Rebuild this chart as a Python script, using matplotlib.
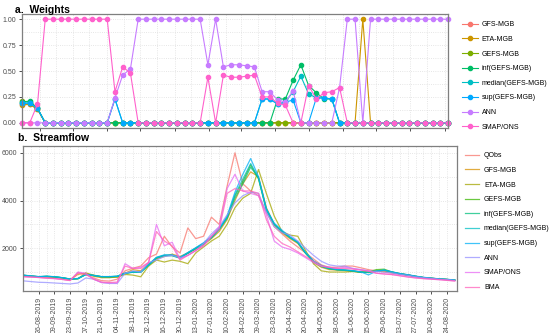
import numpy as np
import pandas as pd
import matplotlib
matplotlib.use("Agg")
import matplotlib.pyplot as plt
import matplotlib.dates as mdates
from matplotlib.ticker import FixedLocator, FormatStrFormatter

plt.rcParams['font.family'] = ['Liberation Sans', 'DejaVu Sans']

# ---- weights (weekly) ----
w_dates = pd.date_range('2019-08-16', periods=56, freq='7D')
w_names = ['GFS-MGB', 'ETA-MGB', 'GEFS-MGB', 'inf(GEFS-MGB)', 'median(GEFS-MGB)',
           'sup(GEFS-MGB)', 'ANN', 'SMAP/ONS']
w_colors = ['#F8766D', '#CD9600', '#7CAE00', '#00BE67', '#00BFC4', '#00A9FF',
            '#C77CFF', '#FF61CC']

w_gfs = [0.18, 0.18, 0.13] + [0]*53
w_eta = [0.17, 0.18, 0.13] + [0]*41 + [1.0] + [0]*11
w_gefs = [0.21, 0.20, 0.14] + [0]*53
w_inf = [0.20, 0.21, 0.14] + [0]*30 + [0.23, 0.23, 0.41, 0.56, 0.36, 0.29, 0.23, 0.23] + [0]*15
w_median = ([0.19, 0.19, 0.14] + [0]*9 + [0.23] + [0]*18 + [0.23, 0.23, 0.18, 0.20, 0.30, 0.45,
            0.28, 0.24, 0.24, 0.23] + [0]*15)
w_sup = ([0.19, 0.19, 0.14] + [0]*9 + [0.23] + [0]*18 + [0.23, 0.23, 0.18, 0.20, 0.22, 0,
         0, 0.24, 0.24, 0.23] + [0]*15)
w_ann = ([0]*12 + [0.24, 0.46, 0.52] + [1.0]*9 + [0.56, 1.0, 0.54, 0.56, 0.56, 0.55, 0.54,
         0.30, 0.30, 0.22, 0.20, 0.31] + [0]*5 + [0.34, 1.0, 1.0, 0] + [1.0]*11)
w_smap = ([0, 0, 0.18] + [1.0]*9 + [0.30, 0.54, 0.48] + [0]*9 + [0.44, 0, 0.46, 0.44, 0.44,
          0.45, 0.46, 0.25, 0.25, 0.19, 0.17, 0, 0, 0.36, 0.23, 0.29, 0.30, 0.34] + [0]*14)
weights = [w_gfs, w_eta, w_gefs, w_inf, w_median, w_sup, w_ann, w_smap]

# ---- streamflow (weekly) ----
s_dates = pd.date_range('2019-08-12', periods=56, freq='7D')
s_names = ['QObs', 'GFS-MGB', 'ETA-MGB', 'GEFS-MGB', 'inf(GEFS-MGB)', 'median(GEFS-MGB)',
           'sup(GEFS-MGB)', 'ANN', 'SMAP/ONS', 'BMA']
s_colors = ['#F8766D', '#D89000', '#A3A500', '#39B600', '#00BF7D', '#00BFC4', '#00B0F6',
            '#9590FF', '#E76BF3', '#FF62BC']

q_obs = [820, 800, 780, 760, 740, 700, 650, 980, 900, 750, 640, 620, 700, 1050, 1160, 1250,
         1600, 1750, 2500, 2050, 1800, 2850, 2400, 2500, 3300, 3000, 4600, 6000, 4700, 4400,
         4200, 3500, 2900, 2600, 2300, 2050, 1800, 1550, 1300, 1200, 1200, 1250, 1250, 1180,
         1100, 1050, 1000, 950, 900, 850, 800, 760, 730, 700, 680, 650]
q_gfs = [850, 820, 790, 800, 790, 750, 680, 900, 950, 820, 760, 760, 800, 950, 1100, 1050,
         1350, 1550, 1650, 1750, 1650, 1800, 1950, 2150, 2400, 2700, 3200, 4000, 4700, 5200,
         5000, 3700, 3000, 2650, 2400, 2200, 1800, 1400, 1200, 1100, 1080, 1060, 1030, 1000,
         990, 1030, 1050, 1000, 930, 880, 820, 770, 740, 710, 690, 660]
q_eta = [860, 830, 800, 810, 790, 760, 700, 720, 960, 870, 800, 780, 780, 900, 870, 800,
         1250, 1500, 1420, 1500, 1450, 1350, 1800, 2050, 2300, 2500, 3000, 3700, 4100, 4300,
         5300, 4300, 3350, 2700, 2550, 2500, 1900, 1350, 1050, 1000, 1000, 1000, 1020, 990,
         980, 1020, 1050, 990, 920, 870, 810, 760, 730, 700, 680, 650]
q_gefs = [870, 830, 800, 820, 800, 760, 700, 720, 900, 860, 800, 800, 820, 950, 1000, 1000,
          1300, 1600, 1700, 1700, 1600, 1800, 2000, 2200, 2450, 2800, 3300, 4200, 4800, 5500,
          4900, 3600, 3000, 2700, 2450, 2250, 1800, 1450, 1250, 1150, 1100, 1080, 1050, 1000,
          1000, 1100, 1120, 1000, 930, 880, 820, 770, 740, 710, 690, 660]
q_inf = [860, 830, 800, 815, 795, 755, 700, 720, 890, 850, 800, 800, 815, 940, 990, 990,
         1280, 1580, 1680, 1680, 1580, 1780, 1980, 2180, 2430, 2780, 3250, 4100, 4700, 5400,
         4950, 3650, 3000, 2700, 2450, 2230, 1780, 1430, 1230, 1130, 1090, 1070, 1040, 990,
         990, 1040, 1080, 990, 925, 875, 815, 765, 735, 705, 685, 655]
q_median = [865, 835, 805, 820, 800, 760, 705, 725, 895, 855, 805, 805, 820, 945, 1000, 1000,
            1300, 1600, 1700, 1700, 1600, 1800, 2000, 2200, 2450, 2800, 3300, 4250, 4900, 5550,
            4950, 3600, 3000, 2700, 2450, 2250, 1800, 1450, 1250, 1150, 1100, 1080, 1050, 1000,
            990, 1040, 1080, 1000, 930, 880, 820, 770, 740, 710, 690, 660]
q_sup = [870, 840, 810, 825, 805, 765, 710, 730, 900, 860, 810, 810, 825, 955, 1010, 1010,
         1320, 1620, 1720, 1720, 1620, 1820, 2020, 2230, 2480, 2830, 3350, 4350, 5100, 5760,
         5000, 3650, 3050, 2750, 2480, 2270, 1820, 1470, 1270, 1170, 1110, 1090, 1060, 1010,
         880, 1030, 1080, 1010, 940, 890, 830, 780, 745, 715, 695, 665]
q_ann = [630, 600, 570, 560, 540, 520, 500, 540, 750, 700, 560, 520, 520, 950, 1050, 1000,
         1400, 1500, 1650, 1700, 1600, 1700, 1900, 2200, 2600, 2900, 3400, 3900, 4200, 4350,
         4300, 3500, 2900, 2650, 2550, 2300, 2000, 1700, 1450, 1300, 1250, 1250, 1150, 1100,
         1050, 1020, 1000, 960, 900, 860, 800, 760, 730, 700, 680, 650]
q_smap = [800, 790, 770, 740, 720, 690, 650, 1000, 950, 700, 560, 540, 540, 1350, 1150, 1200,
          1400, 3000, 2100, 2250, 1550, 1700, 1900, 2100, 2500, 2900, 4500, 5100, 4400, 4300,
          4200, 3400, 2300, 2050, 1950, 1800, 1600, 1400, 1250, 1200, 1150, 1200, 1150, 1100,
          1050, 950, 920, 900, 850, 800, 760, 730, 700, 680, 660, 630]
q_bma = [810, 790, 770, 750, 730, 690, 640, 950, 900, 700, 580, 560, 580, 1250, 1150, 1150,
         1400, 2700, 2300, 2100, 1500, 1700, 1900, 2100, 2500, 2800, 4300, 4500, 4400, 4400,
         4300, 3200, 2500, 2200, 2050, 1850, 1650, 1450, 1250, 1200, 1150, 1150, 1120, 1080,
         1040, 950, 920, 890, 840, 790, 750, 720, 700, 680, 650, 620]
flows = [q_obs, q_gfs, q_eta, q_gefs, q_inf, q_median, q_sup, q_ann, q_smap, q_bma]

W, H = 550, 333
fig = plt.figure(figsize=(5.5, 3.33), dpi=100)

def box(l, t, r, b):
    return [l / W, 1 - b / H, (r - l) / W, (b - t) / H]

def style(ax):
    ax.set_facecolor('white')
    for s in ax.spines.values():
        s.set_color('#7f7f7f')
        s.set_linewidth(0.9)
    ax.grid(True, which='both', color='#dedede', linestyle=':', linewidth=0.6)
    ax.set_axisbelow(True)
    ax.tick_params(which='major', length=2.5, width=0.6, color='#333333',
                   labelsize=5.0, labelcolor='#4d4d4d', pad=1.5)
    ax.tick_params(which='minor', length=0)

# top: weights
ax1 = fig.add_axes(box(22, 14, 448, 128))
style(ax1)
for vals, name, c in zip(weights, w_names, w_colors):
    ax1.plot(w_dates, vals, color=c, lw=0.8, marker='o', ms=3, label=name, clip_on=False)
ax1.set_xlim(w_dates[0], w_dates[-1])
ax1.set_ylim(-0.05, 1.05)
ax1.yaxis.set_major_locator(FixedLocator([0, 0.25, 0.5, 0.75, 1.0]))
ax1.yaxis.set_minor_locator(FixedLocator([0.125, 0.375, 0.625, 0.875]))
ax1.yaxis.set_major_formatter(FormatStrFormatter('%.2f'))
ax1.xaxis.set_major_locator(mdates.MonthLocator(bymonthday=1))
ax1.xaxis.set_minor_locator(mdates.MonthLocator(bymonthday=16))
ax1.set_xticklabels([])
fig.text(15 / W, 1 - 10 / H, 'a.  Weights', fontsize=7.5, fontweight='bold', va='center')
fig.legend(*ax1.get_legend_handles_labels(), loc='upper left',
           bbox_to_anchor=(456 / W, 1 - 15 / H), frameon=False, fontsize=5.0,
           handlelength=2.2, handletextpad=0.6, labelspacing=1.1)

# bottom: streamflow
ax2 = fig.add_axes(box(23, 146, 457, 291))
style(ax2)
for vals, name, c in zip(flows, s_names, s_colors):
    ax2.plot(s_dates, vals, color=c, lw=0.9, alpha=0.75, label=name)
ax2.set_xlim(pd.Timestamp('2019-08-12'), pd.Timestamp('2020-09-02'))
ax2.set_ylim(204, 6286)
ax2.yaxis.set_major_locator(FixedLocator([2000, 4000, 6000]))
ax2.yaxis.set_minor_locator(FixedLocator([1000, 3000, 5000]))
ticks = pd.date_range('2019-08-26', '2020-08-31', freq='14D')
ax2.xaxis.set_major_locator(FixedLocator(mdates.date2num(ticks)))
ax2.xaxis.set_minor_locator(FixedLocator(mdates.date2num(ticks - pd.Timedelta(days=7))))
ax2.xaxis.set_major_formatter(mdates.DateFormatter('%d-%m-%Y'))
plt.setp(ax2.get_xticklabels(), rotation=90, ha='center', va='top')
fig.text(18 / W, 1 - 138 / H, 'b.  Streamflow', fontsize=7.5, fontweight='bold', va='center')
fig.legend(*ax2.get_legend_handles_labels(), loc='upper left',
           bbox_to_anchor=(459 / W, 1 - 146 / H), frameon=False, fontsize=5.0,
           handlelength=2.0, handletextpad=0.7, labelspacing=1.1)

fig.savefig('out.png', dpi=100)
